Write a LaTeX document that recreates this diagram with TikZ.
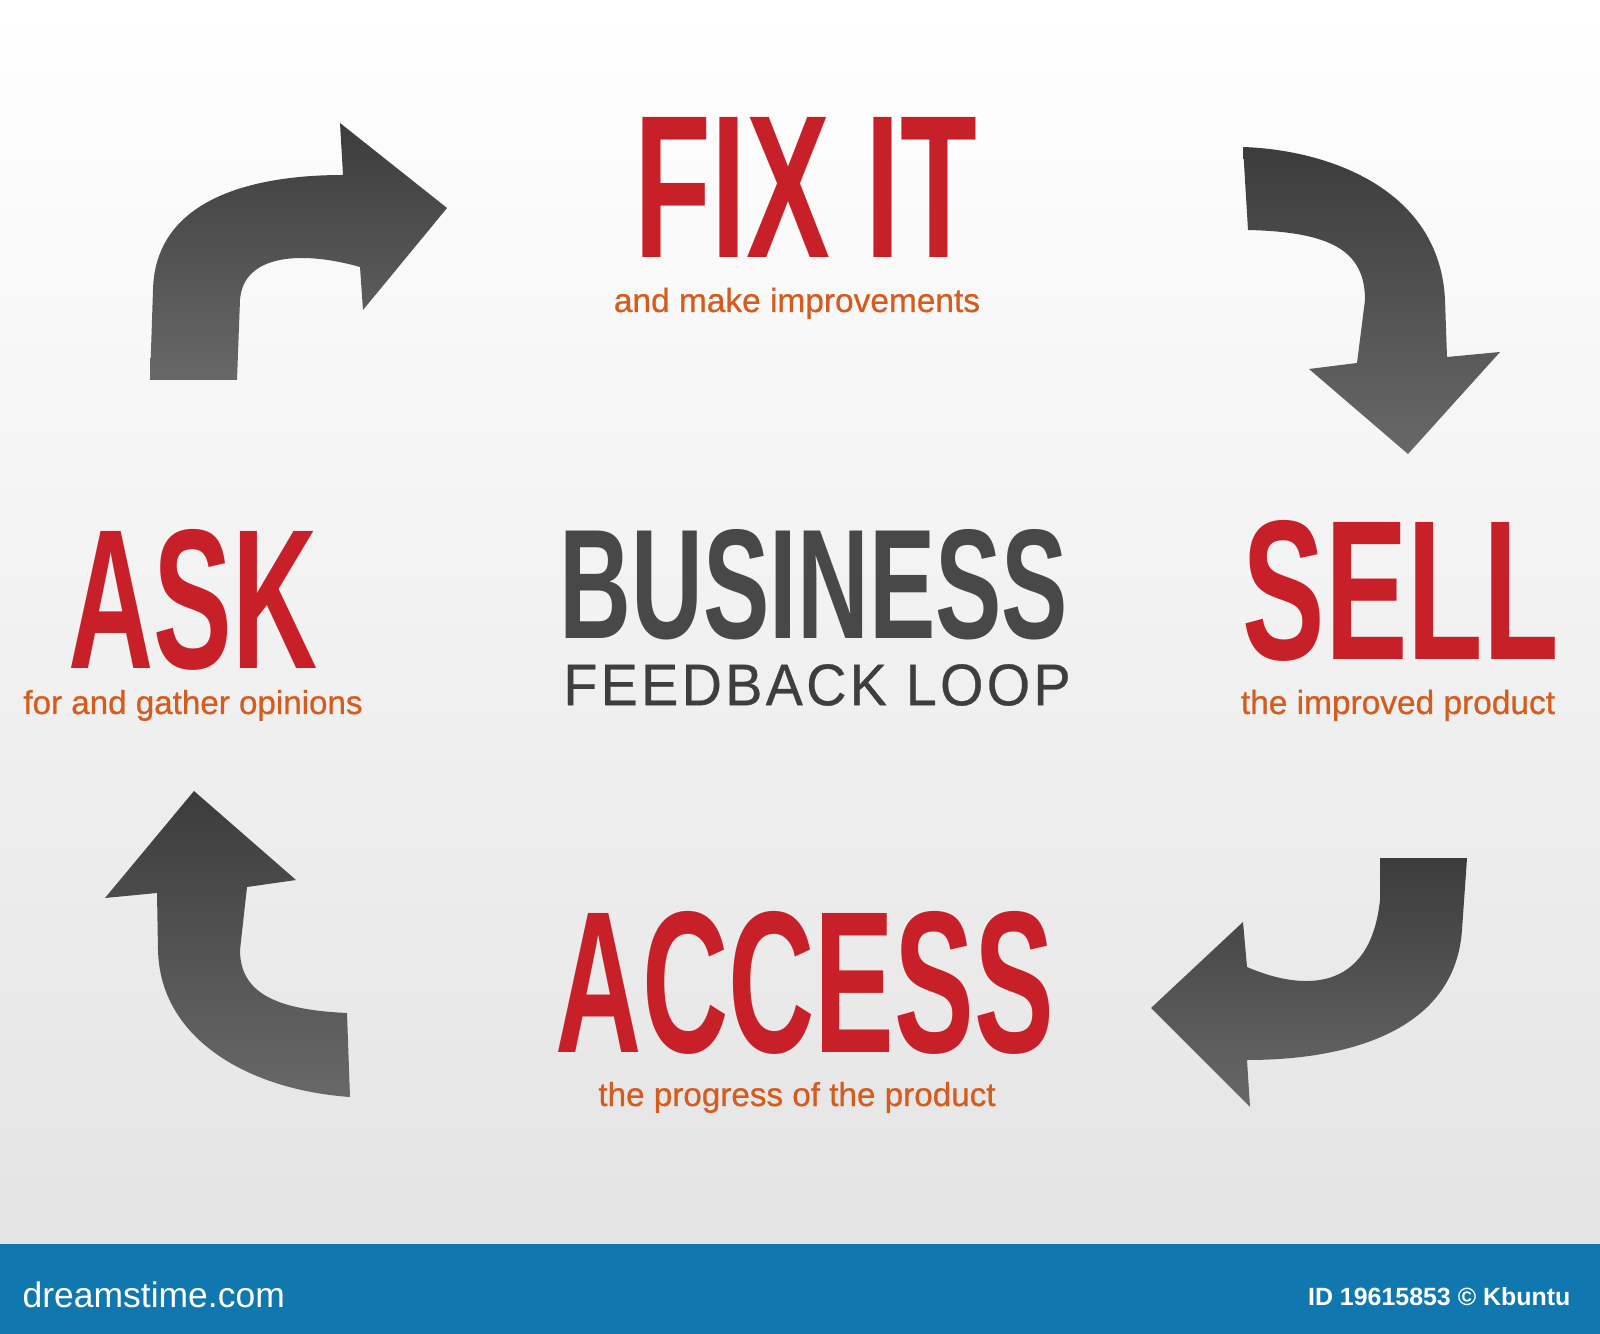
\documentclass[tikz,border=0pt]{standalone}
\usepackage{fontspec}
\setmainfont{Liberation Sans}
\usepackage{graphicx}
\definecolor{loopred}{RGB}{200,32,40}
\definecolor{loopsub}{RGB}{212,92,30}
\definecolor{loopgray}{RGB}{72,72,72}
\definecolor{loopdark}{RGB}{62,62,62}
\definecolor{arrowtop}{RGB}{60,60,60}
\definecolor{arrowbot}{RGB}{104,104,104}
\definecolor{bglow}{RGB}{228,228,228}
\definecolor{barblue}{RGB}{17,119,175}
\newcommand{\loopword}[3]{\resizebox{#1}{#2}{\bfseries #3}}
\newcommand{\loopsubtext}[2]{\resizebox{#1}{!}{\addfontfeature{FakeBold=0.7}#2}}
\begin{document}
\begin{tikzpicture}[x=0.01cm, y=-0.01cm,
    bigword/.style={inner sep=0pt, anchor=center},
    subline/.style={inner sep=0pt, anchor=base, text=loopsub},
    turnarrow/.style={top color=arrowtop, bottom color=arrowbot, draw=none}]
      \useasboundingbox (0,0) rectangle (1600,1334);
      \shade[top color=white, bottom color=bglow] (0,0) rectangle (1600,1244);  % background
      \fill[barblue] (0,1244) rectangle (1600,1334);                           % bottom bar
      %
      % the four turning arrows
      \shade[turnarrow] (150,380) -- (153,290) .. controls (155,200) and (250,175) .. (343,175)
            -- (340,123) -- (447,208) -- (363,310) -- (360,267)
            .. controls (300,250) and (243,255) .. (240,300) -- (237,380) -- cycle;        % top left
      \shade[turnarrow] (1243,147) .. controls (1330,150) and (1440,190) .. (1445,300)
            -- (1447,357) -- (1500,352) -- (1408,454) -- (1309,369) -- (1357,363)
            -- (1365,300) .. controls (1365,250) and (1330,232) .. (1248,230) -- cycle;    % top right
      \shade[turnarrow] (1467,858) -- (1462,930) .. controls (1455,1030) and (1350,1060) .. (1247,1060)
            -- (1250,1107) -- (1151,1008) -- (1243,922) -- (1247,967)
            .. controls (1300,990) and (1370,995) .. (1380,900) -- (1380,858) -- cycle;    % bottom right
      \shade[turnarrow] (350,1097) .. controls (250,1090) and (160,1040) .. (158,950)
            -- (157,893) -- (105,898) -- (194,791) -- (296,880) -- (247,887)
            -- (240,950) .. controls (240,995) and (280,1010) .. (347,1013) -- cycle;      % bottom left
      %
      % top step
      \node[bigword, text=loopred] (fixit) at (806,187) {\loopword{3.42cm}{1.40cm}{FIX IT}};
      \node[subline] (fixsub) at (797,312) {\loopsubtext{3.66cm}{and make improvements}};
      %
      % left step
      \node[bigword, text=loopred] (ask) at (193,600) {\loopword{2.49cm}{1.39cm}{ASK}};
      \node[subline] (asksub) at (193,714) {\loopsubtext{3.39cm}{for and gather opinions}};
      %
      % right step
      \node[bigword, text=loopred] (sell) at (1401,591) {\loopword{3.16cm}{1.39cm}{SELL}};
      \node[subline] (sellsub) at (1398,714) {\loopsubtext{3.14cm}{the improved product}};
      %
      % bottom step
      \node[bigword, text=loopred] (access) at (805,983) {\loopword{4.98cm}{1.41cm}{ACCESS}};
      \node[subline] (accsub) at (797,1106) {\loopsubtext{3.97cm}{the progress of the product}};
      %
      % title in the middle
      \node[bigword, text=loopgray] (business) at (814,585) {\loopword{5.08cm}{1.09cm}{BUSINESS}};
      \node[bigword, text=loopdark] (feedback) at (817,685)
            {\resizebox{5.07cm}{0.41cm}{\addfontfeature{LetterSpace=6,FakeBold=0.5}FEEDBACK LOOP}};
      %
      % bar texts
      \node[inner sep=0pt, anchor=base west, text=white] (site) at (22,1307) {\resizebox{2.62cm}{!}{dreamstime.com}};
      \node[inner sep=0pt, anchor=base east, text=white] (imgid) at (1571,1305) {\resizebox{2.62cm}{!}{\bfseries ID 19615853 © Kbuntu}};
    \end{tikzpicture}
\end{document}
